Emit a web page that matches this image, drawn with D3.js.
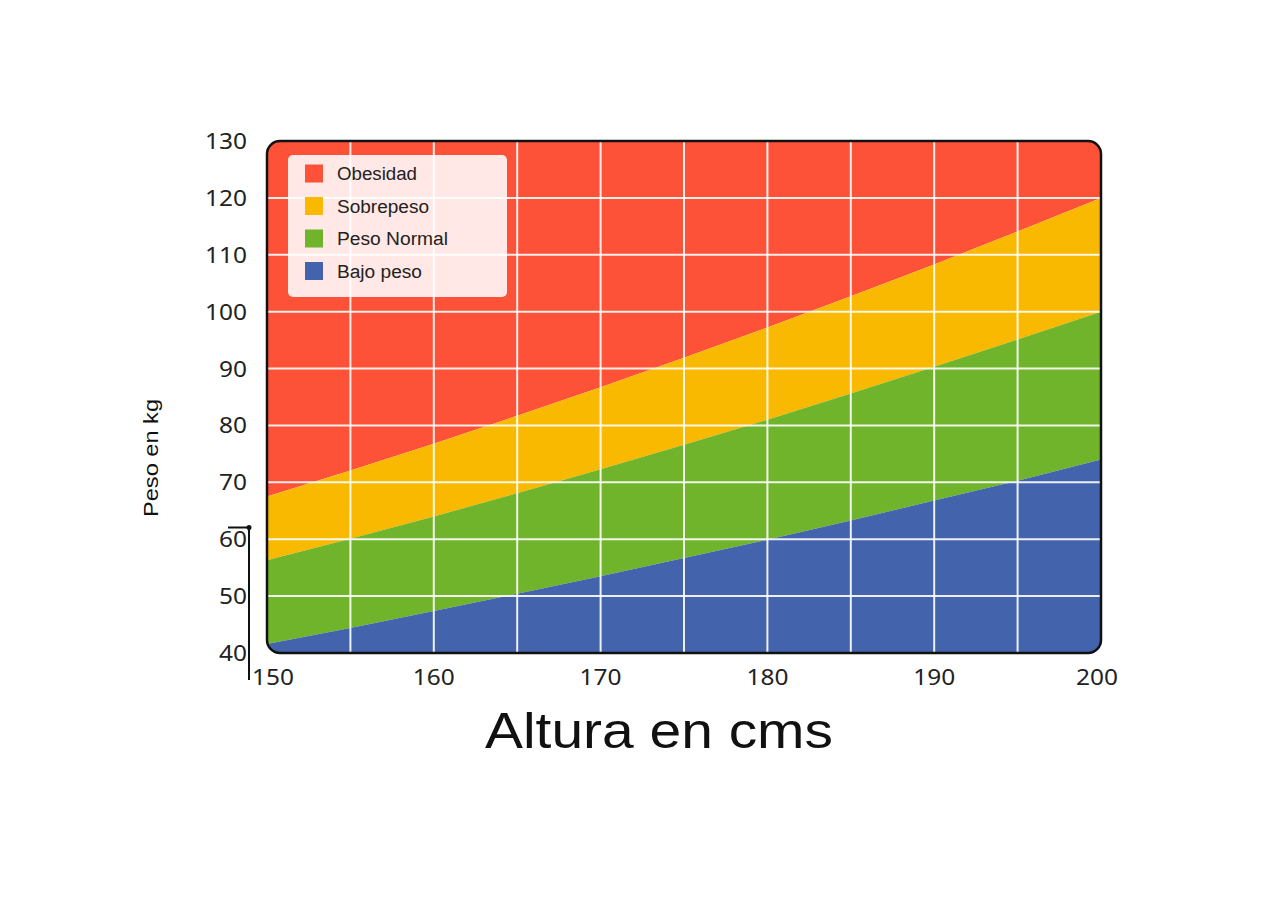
<!DOCTYPE html>
<html><head><meta charset="utf-8">
<script src="https://cdn.jsdelivr.net/npm/d3@7"></script>
<style>html,body{margin:0;padding:0;background:#fff;}</style>
</head><body>
<svg id="chart" width="1280" height="905"></svg>
<script>
// Data (weight in kg at each height)
const heights = [150,155,160,165,170,175,180,185,190,195,200];
const bajoTop   = [41.6,44.4,47.4,50.4,53.5,56.7,59.9,63.3,66.8,70.3,74.0];
const normalTop = [56.3,60.1,64.0,68.1,72.3,76.6,81.0,85.6,90.3,95.1,100.0];
const sobreTop  = [67.5,72.1,76.8,81.7,86.7,91.9,97.2,102.7,108.3,114.1,120.0];
const xTicks = [150,160,170,180,190,200];
const yTicks = [40,50,60,70,80,90,100,110,120,130];
const xGrid = [155,160,165,170,175,180,185,190,195];
const yGrid = [50,60,70,80,90,100,110,120];
const legendLabels = ["Obesidad","Sobrepeso","Peso Normal","Bajo peso"];
const legendColors = ["#fd5138","#f9b900","#70b42b","#4463ad"];

const svg = d3.select("#chart");
const L=267,R=1101,T=141,B=653;
const x = d3.scaleLinear().domain([150,200]).range([L,R]);
const y = d3.scaleLinear().domain([40,130]).range([B,T]);

svg.append("defs").append("clipPath").attr("id","clip")
  .append("rect").attr("x",L).attr("y",T).attr("width",R-L).attr("height",B-T).attr("rx",13).attr("ry",13);

const g = svg.append("g").attr("clip-path","url(#clip)");
function area(lo, hi){
  return d3.area().x((d,i)=>x(heights[i])).y0((d,i)=>y(lo[i])).y1((d,i)=>y(hi[i]))(heights);
}
const top130 = heights.map(()=>130), bot40 = heights.map(()=>40);
g.append("path").attr("d",area(sobreTop, top130)).attr("fill",legendColors[0]);
g.append("path").attr("d",area(normalTop, sobreTop)).attr("fill",legendColors[1]);
g.append("path").attr("d",area(bajoTop, normalTop)).attr("fill",legendColors[2]);
g.append("path").attr("d",area(bot40, bajoTop)).attr("fill",legendColors[3]);

// grid
g.selectAll(".vg").data(xGrid).join("line").attr("x1",d=>x(d)).attr("x2",d=>x(d)).attr("y1",T).attr("y2",B)
  .attr("stroke","#fff").attr("stroke-width",2).attr("opacity",0.9);
g.selectAll(".hg").data(yGrid).join("line").attr("y1",d=>y(d)).attr("y2",d=>y(d)).attr("x1",L).attr("x2",R)
  .attr("stroke","#fff").attr("stroke-width",2).attr("opacity",0.9);

// legend
const legendWidths = [80,92,111,85];
const lg = svg.append("g");
lg.append("rect").attr("x",288).attr("y",155).attr("width",219).attr("height",142).attr("rx",5)
  .attr("fill","#fff").attr("fill-opacity",0.87);
legendLabels.forEach((lab,i)=>{
  const cy = 173.5 + i*32.5;
  lg.append("rect").attr("x",305).attr("y",cy-9).attr("width",18).attr("height",18).attr("fill",legendColors[i]);
  lg.append("text").attr("x",337).attr("y",cy+6.5).text(lab)
    .attr("textLength",legendWidths[i]).attr("lengthAdjust","spacingAndGlyphs")
    .attr("font-family","Liberation Sans, Arial, sans-serif").attr("font-size",18).attr("fill","#222");
});

// frame
svg.append("rect").attr("x",L).attr("y",T).attr("width",R-L).attr("height",B-T).attr("rx",13).attr("ry",13)
  .attr("fill","none").attr("stroke","#111").attr("stroke-width",2.5);

// ticks labels
const tickFont = "Noto Sans, Open Sans, sans-serif";
svg.selectAll(".yt").data(yTicks).join("text")
  .attr("x",247).attr("y",d=>y(d)+8).attr("text-anchor","end").text(d=>d)
  .attr("textLength",d=>String(d).length*14).attr("lengthAdjust","spacingAndGlyphs")
  .attr("font-family",tickFont).attr("font-size",22).attr("fill","#222");
svg.selectAll(".xt").data(xTicks).join("text")
  .attr("x",(d,i)=>x(d)+(i===0?6:(i===xTicks.length-1?-4:0))).attr("y",685).attr("text-anchor","middle").text(d=>d)
  .attr("textLength",42).attr("lengthAdjust","spacingAndGlyphs")
  .attr("font-family",tickFont).attr("font-size",22).attr("fill","#222");

// bracket
svg.append("path").attr("d",`M228,527.5 L249,527.5 M249,527 L249,680`).attr("stroke","#111").attr("stroke-width",2).attr("fill","none");
svg.append("circle").attr("cx",249).attr("cy",527.5).attr("r",2.5).attr("fill","#111");

// titles
svg.append("text").attr("x",659).attr("y",748).attr("text-anchor","middle").text("Altura en cms")
  .attr("textLength",348).attr("lengthAdjust","spacingAndGlyphs")
  .attr("font-family","Liberation Sans, Arial, sans-serif").attr("font-size",50).attr("fill","#111");
svg.append("text").attr("transform","translate(158,458) rotate(-90)").attr("text-anchor","middle").text("Peso en kg")
  .attr("textLength",118).attr("lengthAdjust","spacingAndGlyphs")
  .attr("font-family","Liberation Sans, Arial, sans-serif").attr("font-size",21).attr("fill","#111");
</script>
</body></html>
